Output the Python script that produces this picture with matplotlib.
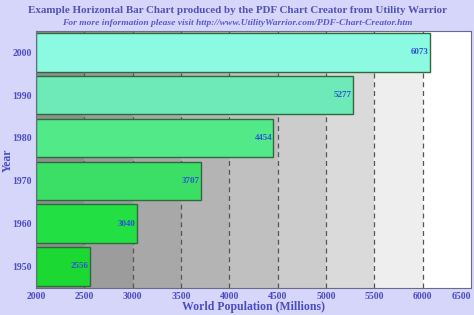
import matplotlib.pyplot as plt

years = ["1950", "1960", "1970", "1980", "1990", "2000"]
population = [2556, 3040, 3707, 4454, 5277, 6073]
bar_colors = ["#1cd832", "#22e044", "#3cdf66", "#52ea88", "#6ee9b8", "#8cfae0"]
x_ticks = [2000, 2500, 3000, 3500, 4000, 4500, 5000, 5500, 6000, 6500]
band_colors = ["#8f8f8f", "#9c9c9c", "#a8a8a8", "#b4b4b4", "#c0c0c0",
               "#cccccc", "#dadada", "#eeeeee", "#ffffff"]

title = "Example Horizontal Bar Chart produced by the PDF Chart Creator from Utility Warrior"
subtitle = "For more information please visit http://www.UtilityWarrior.com/PDF-Chart-Creator.htm"

plt.rcParams["font.family"] = ["Liberation Serif", "DejaVu Serif"]
text_blue = "#4c4cc4"

fig = plt.figure(figsize=(4.74, 3.15), dpi=100, facecolor="#d6d6fa")
ax = fig.add_axes([0.076, 0.086, 0.918, 0.816])

# shaded vertical bands
for i, c in enumerate(band_colors):
    ax.axvspan(x_ticks[i], x_ticks[i + 1], color=c, zorder=0, lw=0)

# dashed grid lines
for x in x_ticks[1:-1]:
    ax.axvline(x, color="#555555", lw=0.9, ls=(0, (4, 3)), zorder=1)

ypos = list(range(len(years)))
ax.barh(ypos, [p - x_ticks[0] for p in population], left=x_ticks[0], height=0.9,
        color=bar_colors, edgecolor="#2f6a3c", linewidth=1.0, zorder=2)

for y, p in zip(ypos, population):
    ax.text(p - 12, y, str(p), ha="right", va="center", fontsize=6.5,
            fontweight="bold", color="#2a55d0", zorder=3)

ax.set_xlim(x_ticks[0], x_ticks[-1])
ax.set_ylim(-0.5, len(years) - 0.5)
ax.set_xticks(x_ticks)
ax.set_xticklabels([str(t) for t in x_ticks])
ax.set_yticks(ypos)
ax.set_yticklabels(years)
ax.tick_params(axis="both", length=0, labelsize=7, labelcolor=text_blue, pad=3)
for lbl in ax.get_xticklabels() + ax.get_yticklabels():
    lbl.set_fontweight("bold")
ax.get_xticklabels()[-1].set_horizontalalignment("right")

for s in ax.spines.values():
    s.set_color("#6a6a8a")
    s.set_linewidth(0.8)

ax.set_xlabel("World Population (Millions)", fontsize=8.5, fontweight="bold",
              color=text_blue, labelpad=0)
fig.text(8 / 474, 0.49, "Year", rotation=90, ha="center", va="center",
         fontsize=8.5, fontweight="bold", color=text_blue)

fig.text(0.5, 0.968, title, ha="center", va="center", fontsize=7.9,
         fontweight="bold", color="#5252b8")
fig.text(0.5, 0.928, subtitle, ha="center", va="center", fontsize=6.8,
         fontweight="bold", style="italic", color="#5a5ad0")

fig.savefig("out.png", dpi=100, facecolor=fig.get_facecolor())
